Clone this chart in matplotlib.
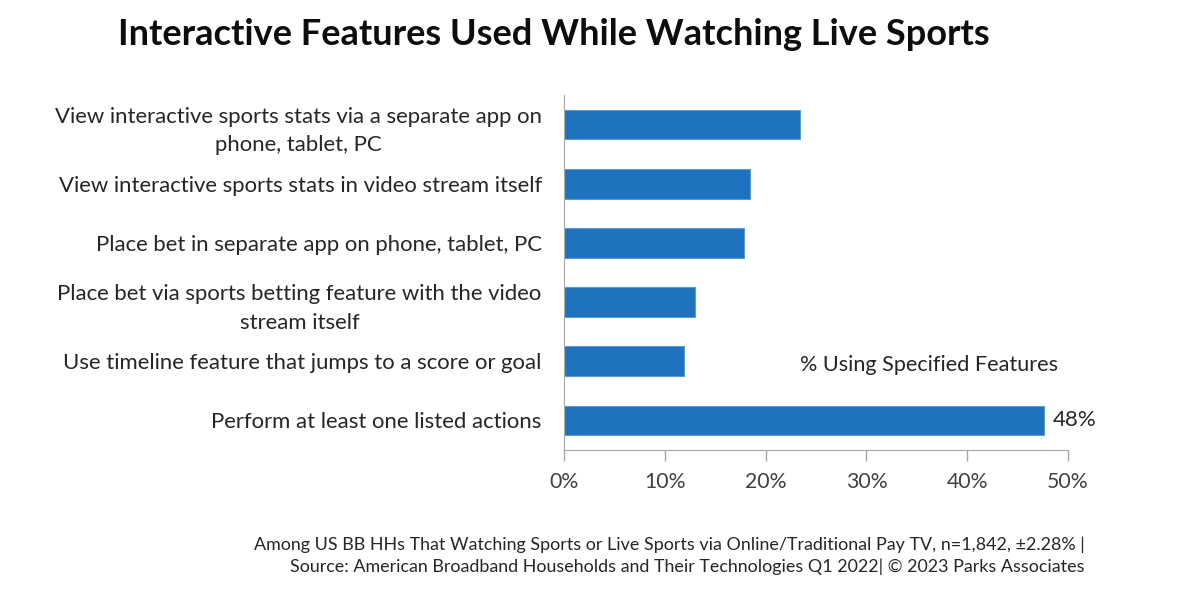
import matplotlib
matplotlib.use("Agg")
import matplotlib.pyplot as plt
from matplotlib.ticker import FuncFormatter

categories = [
    "View interactive sports stats via a separate app on\nphone, tablet, PC",
    "View interactive sports stats in video stream itself",
    "Place bet in separate app on phone, tablet, PC",
    "Place bet via sports betting feature with the video\nstream itself",
    "Use timeline feature that jumps to a score or goal",
    "Perform at least one listed actions",
]
values = [23.4, 18.5, 17.9, 13.0, 11.9, 47.6]
x_ticks = [0, 10, 20, 30, 40, 50]

title = "Interactive Features Used While Watching Live Sports"
series_note = "% Using Specified Features"
footer = ("Among US BB HHs That Watching Sports or Live Sports via Online/Traditional Pay TV, n=1,842, \u00b12.28% |\n"
          "Source: American Broadband Households and Their Technologies Q1 2022| \u00a9 2023 Parks Associates")

plt.rcParams['font.family'] = ['Lato', 'DejaVu Sans']

fig = plt.figure(figsize=(12, 5.99), dpi=100)
ax = fig.add_axes([0.47, 0.2487, 0.42, 0.5927])

pos = list(range(len(categories)))
ax.barh(pos, values, height=0.5, color='#1f72bd', edgecolor='#5b9bd5', linewidth=0.8)
ax.set_ylim(len(categories) - 0.5, -0.5)
ax.set_xlim(0, 50)
ax.set_yticks(pos)
ax.set_yticklabels(categories, fontsize=15.9, color='#262626', linespacing=1.55,
                   multialignment='center')
ax.tick_params(axis='y', length=0, pad=16)
ax.set_xticks(x_ticks)
ax.xaxis.set_major_formatter(FuncFormatter(lambda v, p: f"{int(v)}%"))
ax.tick_params(axis='x', length=8, width=1, color='#a6a6a6', labelsize=15.3, labelcolor='#404040', pad=8)
for lbl in ax.get_yticklabels():
    lbl.set_horizontalalignment('right')

for s in ['top', 'right']:
    ax.spines[s].set_visible(False)
ax.spines['left'].set_color('#a6a6a6')
ax.spines['bottom'].set_color('#a6a6a6')

ax.text(values[-1] + 0.9, pos[-1], f"{round(values[-1])}%", va='center', ha='left',
        fontsize=16, color='#262626')
ax.text(0.724, 0.24, series_note, transform=ax.transAxes, ha='center', va='center',
        fontsize=15.6, color='#262626')

fig.text(0.4617, 0.9416, title, ha='center', va='center', fontsize=26,
         fontweight='bold', color='#0d0d0d')
fig.text(0.904, 0.0726, footer, ha='right', va='center', fontsize=12.85,
         color='#262626', linespacing=1.4)

fig.savefig("out.png", dpi=100)
